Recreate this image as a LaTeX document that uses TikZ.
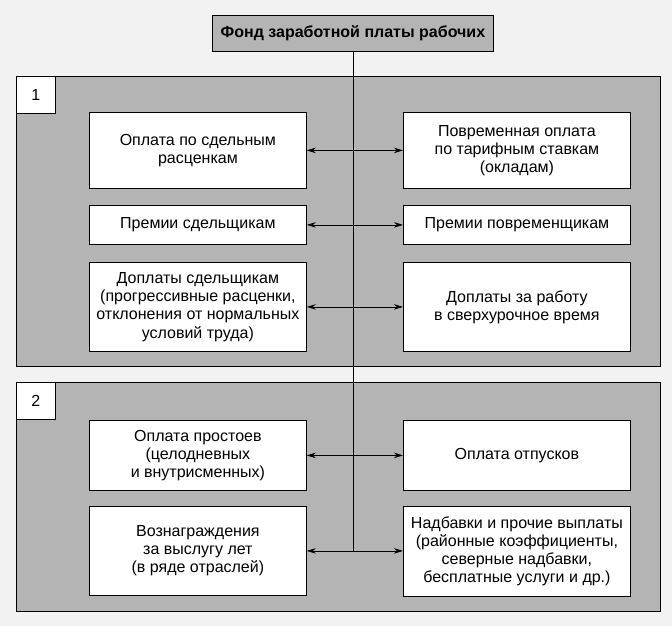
\documentclass[tikz,border=0pt]{standalone}
\usepackage{fontspec}
\setmainfont{Liberation Sans}
\usepackage{tikz}
\usetikzlibrary{arrows.meta,positioning,calc}
\definecolor{mygray}{RGB}{180,180,180}
\definecolor{mypaper}{RGB}{242,242,242}

\begin{document}
\begin{tikzpicture}[
  x=1pt,
  y=-1pt,
  line width=0.8pt,
  font=\fontsize{16}{18.2}\selectfont,
  mypanel/.style={
    draw,
    fill=mygray,
    anchor=north west,
    minimum width=644pt,
    minimum height=#1,
    inner sep=0pt
    },
  mybox/.style={
    draw,
    fill=white,
    anchor=north west,
    align=center,
    minimum height=#1,
    inner sep=0pt
    },
  leftbox/.style={mybox=#1, minimum width=217pt},
  rightbox/.style={mybox=#1, minimum width=227pt},
  myarrow/.style={{Stealth[length=9pt,width=5.5pt]}-{Stealth[length=9pt,width=5.5pt]}}
]

\path[use as bounding box, fill=mypaper] (0,0) rectangle (672,626);

\node[mybox=36pt, minimum width=281pt, fill=mygray, font=\bfseries\fontsize{16}{18}\selectfont]
  (fond) at (212,15) {Фонд заработной платы рабочих};

\node[mypanel=290pt] (panel1) at (16,76) {};
\node[mypanel=229pt] (panel2) at (16,382) {};
\node[mybox=37pt, minimum width=39pt] (lab1) at (panel1.north west) {1};
\node[mybox=37pt, minimum width=39pt] (lab2) at (panel2.north west) {2};

% group 1
\node[leftbox=76pt] (piece) at (89,112) {Оплата по сдельным\\расценкам};
\node[rightbox=76pt] (time) at (403,112) {Повременная оплата\\по тарифным ставкам\\(окладам)};
\node[leftbox=39pt] (bonus1) at (89,205) {Премии сдельщикам};
\node[rightbox=39pt] (bonus2) at (403,205) {Премии повременщикам};
\node[leftbox=89pt] (extra1) at (89,262)
  {Доплаты сдельщикам\\(прогрессивные расценки,\\отклонения от нормальных\\условий труда)};
\node[rightbox=89pt] (extra2) at (403,262) {Доплаты за работу\\в сверхурочное время};

% group 2
\node[leftbox=70pt] (idle) at (89,420) {Оплата простоев\\(целодневных\\и внутрисменных)};
\node[rightbox=70pt] (leave) at (403,420) {Оплата отпусков};
\node[leftbox=89pt] (senior) at (89,506) {Вознаграждения\\за выслугу лет\\(в ряде отраслей)};
\node[rightbox=90pt] (allow) at (403,506)
  {Надбавки и прочие выплаты\\(районные коэффициенты,\\северные надбавки,\\бесплатные услуги и др.)};

\draw (fond.south) -- (fond.south |- senior.east);
\foreach \Left/\Right in {piece/time, bonus1/bonus2, extra1/extra2, idle/leave, senior/allow}
  \draw[myarrow] (\Left.east) -- (\Left.east -| \Right.west);
\end{tikzpicture}
\end{document}
